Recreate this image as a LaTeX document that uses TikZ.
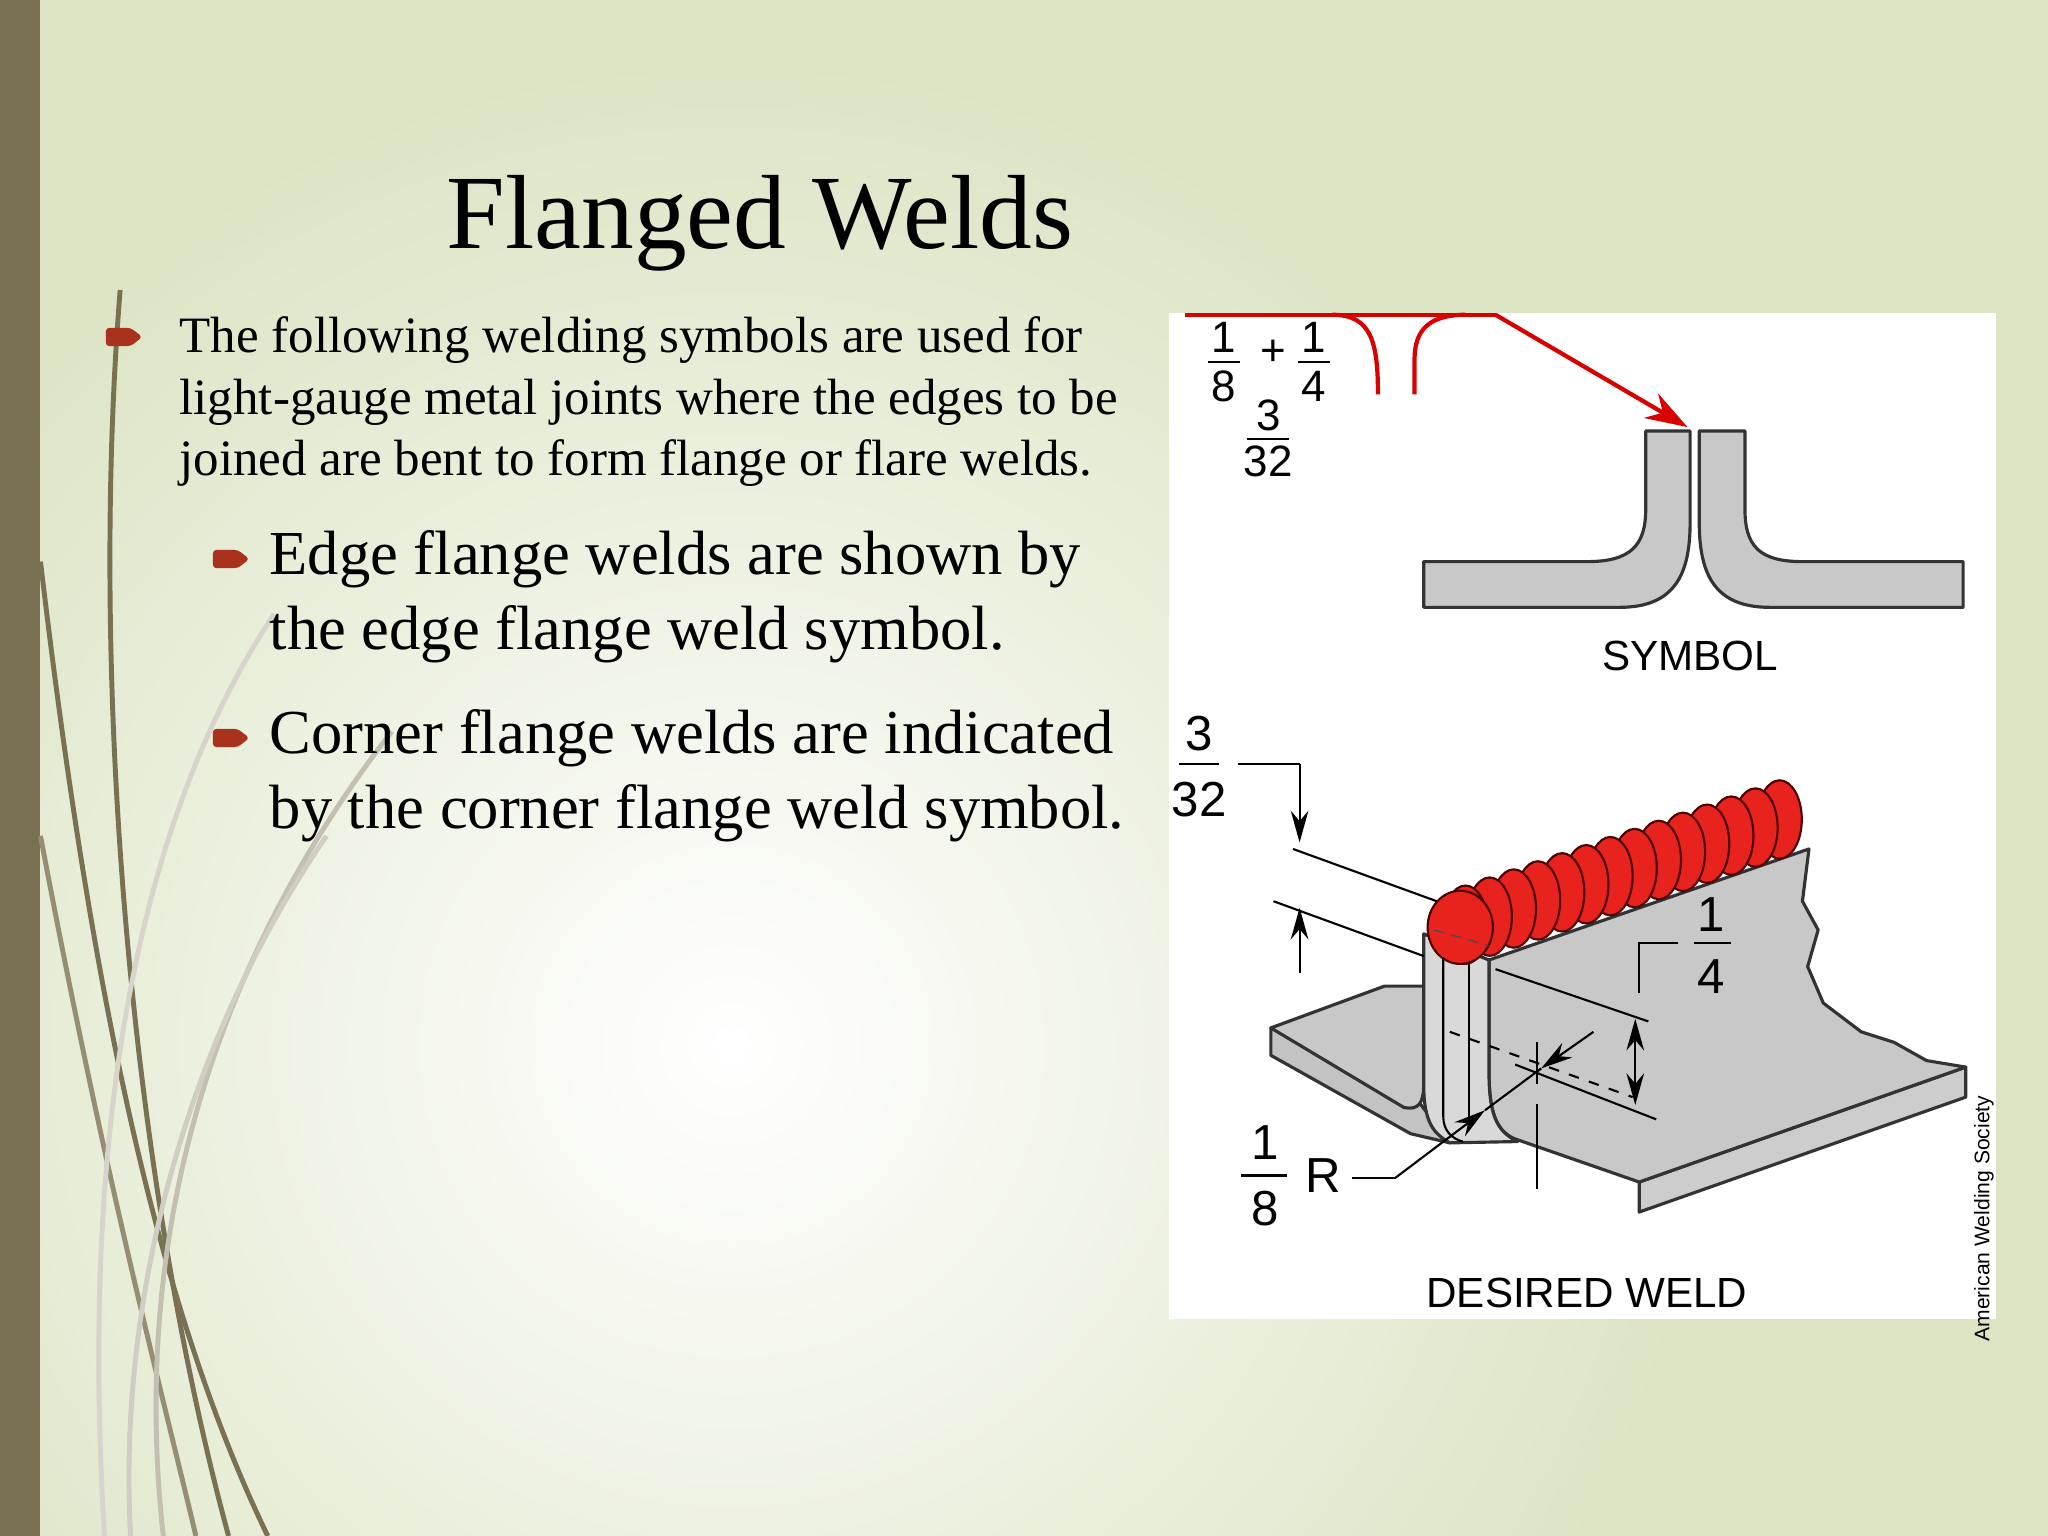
\documentclass[tikz,border=0pt]{standalone}
\usepackage{fontspec}
\setmainfont{Liberation Serif}
\newfontfamily\arial{Liberation Sans}
\usetikzlibrary{arrows.meta}
\definecolor{bg}{HTML}{DCE4C4}
\definecolor{olive}{HTML}{7A7152}
\definecolor{bul}{HTML}{A8321E}
\definecolor{weldred}{HTML}{E8221C}
\definecolor{metal}{HTML}{C8C8C8}
\definecolor{metaldark}{HTML}{A9A9A9}
\begin{document}
\begin{tikzpicture}[x=0.01306cm,y=-0.01306cm,
  bt/.style={anchor=base west,inner sep=0pt,font=\fontsize{14.5}{17}\selectfont},
  st/.style={anchor=base west,inner sep=0pt,font=\fontsize{17.8}{21}\selectfont},
  dim/.style={inner sep=0pt,font=\arial\fontsize{14}{16}\selectfont},
  sdim/.style={inner sep=0pt,font=\arial\fontsize{12.5}{14}\selectfont},
  part/.style={draw=black!80,line width=0.9pt,fill=metal,line join=round},
  thin/.style={draw=black,line width=0.6pt},
  arr/.style={-{Stealth[length=9pt,width=5pt]},thin},
  bead/.style={fill=weldred,draw=black!70!red,line width=0.6pt}]
\useasboundingbox (0,0) rectangle (1568,1176);
\fill[bg] (0,0) rectangle (1568,1176);
\shade[inner color=white,outer color=bg] (560,800) circle (760);
\fill[olive] (0,0) rectangle (31,1176);
% decorative curves
\begin{scope}[line width=1.4pt]
\draw[olive] (92,222) .. controls (68,520) and (100,900) .. (175,1176);
\draw[olive] (31,430) .. controls (70,760) and (120,1000) .. (205,1176);
\draw[olive!80] (31,640) .. controls (80,900) and (120,1050) .. (150,1176);
\draw[olive!45] (300,560) .. controls (160,740) and (100,950) .. (125,1176);
\draw[olive!35] (250,640) .. controls (140,800) and (90,1000) .. (100,1176);
\draw[olive!30] (210,470) .. controls (110,620) and (60,850) .. (80,1176);
\end{scope}
% title
\node[inner sep=0pt,anchor=base,font=\fontsize{30}{34}\selectfont] (title) at (582,190) {Flanged Welds};
% bullets
\newcommand{\bulletshape}[2]{\fill[bul,rounded corners=1pt] (#1-14,#2-7) -- (#1+5,#2-7) -- (#1+14,#2) -- (#1+5,#2+7) -- (#1-14,#2+7) -- cycle;}
\bulletshape{95}{258}
\bulletshape{177}{428}
\bulletshape{177}{565}
\node[bt] (l1) at (137,270) {The following welding symbols are used for};
\node[bt] (l2) at (137,317) {light-gauge metal joints where the edges to be};
\node[bt] (l3) at (137,364) {joined are bent to form flange or flare welds.};
\node[st] (s1) at (206,440) {Edge flange welds are shown by};
\node[st] (s2) at (206,497) {the edge flange weld symbol.};
\node[st] (s3) at (206,577) {Corner flange welds are indicated};
\node[st] (s4) at (206,634) {by the corner flange weld symbol.};
% white panel
\fill[white] (895,240) rectangle (1528,1010);
% ---- symbol
\coordinate (rl0) at (907,241);
\coordinate (rl1) at (1145,241);
\coordinate (tip) at (1292,327);
\draw[red!85!black,line width=1.2pt] (rl0) -- (rl1);
\draw[red!85!black,line width=1.2pt,-{Stealth[length=12pt,width=8pt]}] (rl1) -- (tip);
\draw[red!85!black,line width=1.2pt] (1020,241) .. controls (1050,241) and (1055,262) .. (1055,302);
\draw[red!85!black,line width=1.2pt] (1083,302) -- (1083,275) .. controls (1083,252) and (1095,241) .. (1122,241);
\node[sdim] (f1) at (937,258) {1};
\node[sdim] (f8) at (937,296) {8};
\draw[thin] (925,277) -- (949,277);
\node[sdim] (plus) at (975,270) {+};
\node[sdim] (g1) at (1006,258) {1};
\node[sdim] (g4) at (1006,296) {4};
\draw[thin] (994,277) -- (1018,277);
\node[sdim] (h3) at (971,318) {3};
\node[sdim] (h32) at (971,353) {32};
\draw[thin] (955,336) -- (987,336);
\draw[part] (1260,330) -- (1294,330) -- (1294,400) .. controls (1294,440) and (1282,465) .. (1240,465) -- (1090,465) -- (1090,430) -- (1215,430) .. controls (1248,430) and (1260,418) .. (1260,390) -- cycle;
\draw[part] (1336,330) -- (1301,330) -- (1301,400) .. controls (1301,440) and (1313,465) .. (1355,465) -- (1503,465) -- (1503,430) -- (1380,430) .. controls (1347,430) and (1336,418) .. (1336,390) -- cycle;
\node[inner sep=0pt,font=\arial\fontsize{12}{14}\selectfont] (symlbl) at (1294,502) {SYMBOL};
% ---- desired weld
% right plate + flange
\draw[part,fill=metal!90] (1255,905) -- (1505,817) -- (1505,840) -- (1255,928) -- cycle;
\draw[part] (1140,735) -- (1385,650) -- (1380,690) -- (1392,712) -- (1384,740) -- (1396,768) -- (1425,790) -- (1450,798) -- (1475,812) -- (1505,817) -- (1255,905) -- (1160,872) .. controls (1145,866) and (1140,850) .. (1140,820) -- cycle;
% left plate
\draw[part,fill=metaldark!70] (973,787) -- (1085,842) -- (1110,875) -- (1080,868) -- (973,808) -- cycle;
\draw[part] (973,787) -- (1060,755) -- (1090,755) -- (1090,830) .. controls (1090,845) and (1086,850) .. (1075,848) -- cycle;
% flange strip
\draw[part,fill=metal!70] (1090,715) -- (1140,735) -- (1140,820) .. controls (1140,852) and (1145,866) .. (1162,874) -- (1110,875) .. controls (1098,868) and (1090,860) .. (1090,830) -- cycle;
\draw[thin] (1105,720) -- (1105,855) .. controls (1105,866) and (1112,872) .. (1120,874);
\draw[thin] (1125,728) -- (1125,860);
% weld bead
\foreach \i in {13,12,...,0} {
  \pgfmathsetmacro{\bx}{1122+\i*18.5}
  \pgfmathsetmacro{\by}{708-\i*6.2}
  \draw[bead] (\bx,\by) ellipse [x radius=17, y radius=30];
}
\draw[bead] (1118,710) ellipse [x radius=25, y radius=28];
\draw[densely dashed,black!70] (1098,712) -- (1140,724);
% dimensions
\node[dim] (d3) at (918,562) {3};
\node[dim] (d32) at (918,612) {32};
\draw[thin] (903,585) -- (933,585);
\coordinate (a1s) at (995,585);
\coordinate (a1e) at (995,645);
\draw[thin] (948,585) -- (a1s);
\draw[arr] (a1s) -- (a1e);
\coordinate (a2s) at (995,745);
\coordinate (a2e) at (995,695);
\draw[arr] (a2s) -- (a2e);
\draw[thin] (990,650) -- (1100,690);
\draw[thin] (975,690) -- (1090,732);
\draw[thin] (1145,742) -- (1262,782);
\draw[thin] (1160,815) -- (1268,857);
\node[dim] (q1) at (1310,700) {1};
\node[dim] (q4) at (1310,748) {4};
\draw[thin] (1297,722) -- (1325,722);
\coordinate (a3s) at (1255,722);
\draw[thin] (1285,722) -- (a3s) -- (1255,760);
\coordinate (a3m) at (1252,812);
\draw[arr] (a3m) -- (1252,780);
\draw[arr] (a3m) -- (1252,846);
\draw[thin,dashed] (1110,790) -- (1250,840);
\draw[thin] (1177,798) -- (1177,830);
\draw[thin] (1177,845) -- (1177,910);
\coordinate (a4s) at (1220,790);
\coordinate (a4e) at (1180,818);
\draw[arr] (a4s) -- (a4e);
\node[dim] (r1) at (969,875) {1};
\node[dim] (r8) at (969,925) {8};
\draw[thin] (950,900) -- (985,900);
\node[dim] (rR) at (1013,900) {R};
\coordinate (a5s) at (1068,902);
\coordinate (a5e) at (1137,850);
\draw[thin] (1035,902) -- (a5s);
\draw[arr] (a5s) -- (a5e);
\draw[thin] (1137,850) -- (1180,818);
\node[inner sep=0pt,font=\arial\fontsize{12}{14}\selectfont] (dw) at (1215,990) {DESIRED WELD};
\node[inner sep=0pt,rotate=90,font=\arial\fontsize{6}{7}\selectfont] (aws) at (1519,933) {American Welding Society};
\end{tikzpicture}
\end{document}
